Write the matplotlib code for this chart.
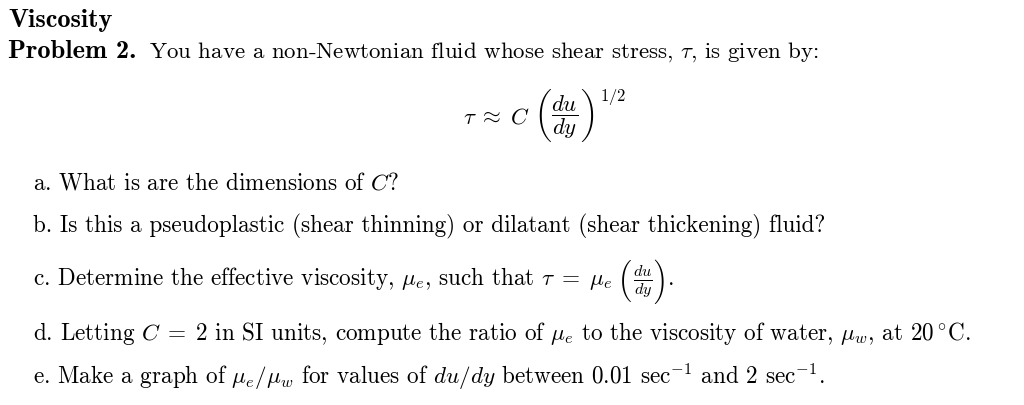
import matplotlib
matplotlib.use("Agg")
import matplotlib.pyplot as plt

plt.rcParams["mathtext.fontset"] = "cm"
plt.rcParams["font.family"] = "serif"
plt.rcParams["font.serif"] = ["cmr10"]

W, H = 1024, 406

title = "Viscosity"
problem_label = "Problem 2."
problem_text = r"You have a non-Newtonian fluid whose shear stress, $\tau$, is given by:"
eq_lhs = r"$\tau\;\approx\;C$"
eq_frac = r"$\dfrac{du}{dy}$"
eq_power = r"$1/2$"
items = [
    r"a. What is are the dimensions of $C$?",
    r"b. Is this a pseudoplastic (shear thinning) or dilatant (shear thickening) fluid?",
    r"c. Determine the effective viscosity, $\mu_e$, such that $\tau\;=\;\mu_e$",
    r"d. Letting $C\;=\;2$ in SI units, compute the ratio of $\mu_e$ to the viscosity of water, $\mu_w$, at $20\,^{\circ}\mathrm{C}$.",
    r"e. Make a graph of $\mu_e/\mu_w$ for values of $du/dy$ between 0.01 sec$^{-1}$ and 2 sec$^{-1}$.",
]
item_baselines = [190, 232, 285, 340, 384]
c_frac = r"$\frac{du}{dy}$"

fs = 16.5
fs_items = 16.7
fs_bold = 19

fig = plt.figure(figsize=(W / 100, H / 100), dpi=100)


def fy(y):
    return 1 - y / H


def fx(x):
    return x / W


def right_edge(txt):
    fig.canvas.draw()
    return txt.get_window_extent().x1


# heading
fig.text(fx(8), fy(27), title, family="cmb10", fontsize=fs_bold, va="baseline")
t = fig.text(fx(8), fy(58), problem_label, family="cmb10", fontsize=fs_bold, va="baseline")
fig.text(fx(right_edge(t) + 13), fy(58), problem_text, fontsize=fs, va="baseline")

# display equation, big parens come from cmex10 (same glyphs mathtext uses)
fig.text(fx(529), fy(124), eq_lhs, fontsize=fs, ha="right", va="baseline")
fig.text(fx(534), fy(115), "\xb5", family="cmex10", fontsize=fs, ha="left", va="center")
fig.text(fx(565), fy(117), eq_frac, fontsize=fs, ha="center", va="center")
fig.text(fx(597), fy(115), "\xb6", family="cmex10", fontsize=fs, ha="right", va="center")
fig.text(fx(600), fy(101), eq_power, fontsize=fs * 0.72, ha="left", va="baseline")

lines = []
for txt, yb in zip(items, item_baselines):
    lines.append(fig.text(fx(33), fy(yb), txt, fontsize=fs_items, va="baseline"))

# tail of item c: (du/dy) with a Big paren
yc = item_baselines[2]
x = right_edge(lines[2]) + 6
p = fig.text(fx(x), fy(yc - 3), "\xb3", family="cmex10", fontsize=fs_items, ha="left", va="center")
x = right_edge(p) + 1
f = fig.text(fx(x), fy(yc - 3), c_frac, fontsize=fs_items, ha="left", va="center")
x = right_edge(f) + 1
p = fig.text(fx(x), fy(yc - 3), "\xb4", family="cmex10", fontsize=fs_items, ha="left", va="center")
x = right_edge(p) + 1
fig.text(fx(x), fy(yc), ".", fontsize=fs_items, ha="left", va="baseline")

fig.savefig("out.png", dpi=100, facecolor="white")
